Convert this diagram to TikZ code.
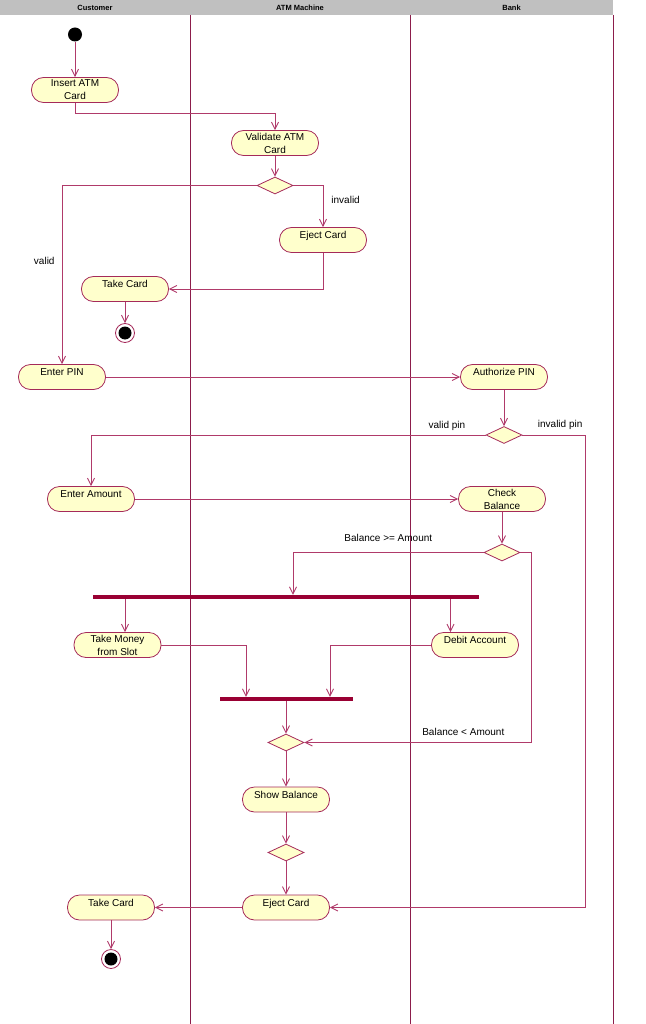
\documentclass[tikz,border=0pt]{standalone}
\usepackage{fontspec}
\setmainfont{Liberation Sans}
\usetikzlibrary{positioning,shapes.geometric,arrows.meta}
\definecolor{lane}{HTML}{8C1D4B}
\definecolor{edge}{HTML}{B03A6A}
\definecolor{rim}{HTML}{A52A5A}
\definecolor{cream}{HTML}{FFFFCC}
\definecolor{barred}{HTML}{990033}
\definecolor{head}{HTML}{C0C0C0}
\tikzset{
act/.style={draw=rim,line width=0.8pt,fill=cream,rectangle,rounded corners=12pt,minimum width=87pt,minimum height=25pt,inner sep=1pt,align=center,font=\fontsize{10}{13}\selectfont},
hi/.style={text height=7pt,text depth=9.5pt},
choice/.style={draw=rim,line width=0.8pt,fill=cream,diamond,aspect=2,minimum width=36pt,minimum height=17pt,inner sep=0pt},
syncbar/.style={fill=barred,rectangle,minimum height=4pt,inner sep=0pt},
initdot/.style={circle,fill=black,minimum size=14pt,inner sep=0pt},
stopdot/.style={circle,draw=rim,line width=0.8pt,minimum size=19pt,inner sep=0pt,path picture={\fill[black] (path picture bounding box.center) circle (6.5pt);}},
flow/.style={draw=edge,line width=0.9pt,-{Straight Barb[length=7pt,width=7pt]}},
lbl/.style={font=\fontsize{10}{12}\selectfont,inner sep=2pt},
lanehead/.style={font=\fontsize{7.5}{9}\selectfont\bfseries}
}
\begin{document}
\begin{tikzpicture}[x=1pt,y=-1pt,on grid]
\useasboundingbox (0,0) rectangle (645,1024);
\fill[head] (0,0) rectangle (613,15);
\node[lanehead] (hcust) at (95,7.5) {Customer};
\node[lanehead] (hatm) at (300,7.5) {ATM Machine};
\node[lanehead] (hbank) at (511.5,7.5) {Bank};
\foreach \x in {190,410,613} \draw[lane,line width=0.9pt] (\x,15) -- (\x,1024);
\node[initdot] (init) at (75,34.5) {};
\node[act] (insert) [below=55.5pt of init] {Insert ATM\\Card};
\node[act] (validate) [below right=53pt and 200pt of insert] {Validate ATM\\Card};
\node[choice] (d1) [below=42.5pt of validate] {};
\node[act,hi] (eject1) [below right=54.5pt and 48pt of d1] {Eject Card};
\node[act,hi] (take1) [below left=49pt and 198pt of eject1] {Take Card};
\node[stopdot] (end1) [below=44pt of take1] {};
\node[act,hi] (pin) [below left=88pt and 63pt of take1] {Enter PIN};
\node[act,hi] (auth) [right=442pt of pin] {Authorize PIN};
\node[choice] (d2) [below=58pt of auth] {};
\node[act,hi] (amount) [below left=64pt and 413pt of d2] {Enter Amount};
\node[act] (check) [right=411pt of amount] {Check\\Balance};
\node[choice] (d3) [below=53.5pt of check] {};
\node[syncbar,minimum width=386.5pt] (fork) [below left=44.5pt and 216pt of d3] {};
\node[act] (money) [below left=48pt and 168.5pt of fork] {Take Money\\from Slot};
\node[act,hi] (debit) [right=357.5pt of money] {Debit Account};
\node[syncbar,minimum width=133pt] (join) [below=102pt of fork] {};
\node[choice] (d4) [below=43.5pt of join] {};
\node[act,hi] (show) [below=57pt of d4] {Show Balance};
\node[choice] (d5) [below=53pt of show] {};
\node[act,hi] (eject2) [below=55pt of d5] {Eject Card};
\node[act,hi] (take2) [left=175pt of eject2] {Take Card};
\node[stopdot] (end2) [below=51.5pt of take2] {};
\draw[flow] (init) -- (insert);
\draw[flow] (insert.south) -- ++(0,11) -| (validate.north);
\draw[flow] (validate) -- (d1);
\draw[flow] (d1.west) -| node[lbl,pos=.71,left=5pt] {valid} (pin.north);
\draw[flow] (d1.east) -| node[lbl,pos=.67,right=6pt] {invalid} (eject1.north);
\draw[flow] (eject1.south) |- (take1.east);
\draw[flow] (take1) -- (end1);
\draw[flow] (pin) -- (auth);
\draw[flow] (auth) -- (d2);
\draw[flow] (d2.west) -| node[lbl,pos=.02,above left=3pt] {valid pin} (amount.north);
\draw[flow] (d2.east) -- node[lbl,above=3pt,xshift=6pt] {invalid pin} ++(63.5,0) |- (eject2.east);
\draw[flow] (amount) -- (check);
\draw[flow] (check) -- (d3);
\draw[flow] (d3.west) -| node[lbl,pos=.25,above=8pt] {Balance >= Amount} ([xshift=7pt]fork.north);
\draw[flow] (d3.east) -- ++(11,0) |- node[lbl,pos=.65,above=4pt] {Balance < Amount} (d4.east);
\draw[flow] ([xshift=-161pt]fork.south) -- ([xshift=7.5pt]money.north);
\draw[flow] ([xshift=164.5pt]fork.south) -- ([xshift=-24.5pt]debit.north);
\draw[flow] (money.east) -| ([xshift=-40pt]join.north);
\draw[flow] (debit.west) -| ([xshift=44pt]join.north);
\draw[flow] (join) -- (d4);
\draw[flow] (d4) -- (show);
\draw[flow] (show) -- (d5);
\draw[flow] (d5) -- (eject2);
\draw[flow] (eject2) -- (take2);
\draw[flow] (take2) -- (end2);
\end{tikzpicture}
\end{document}
